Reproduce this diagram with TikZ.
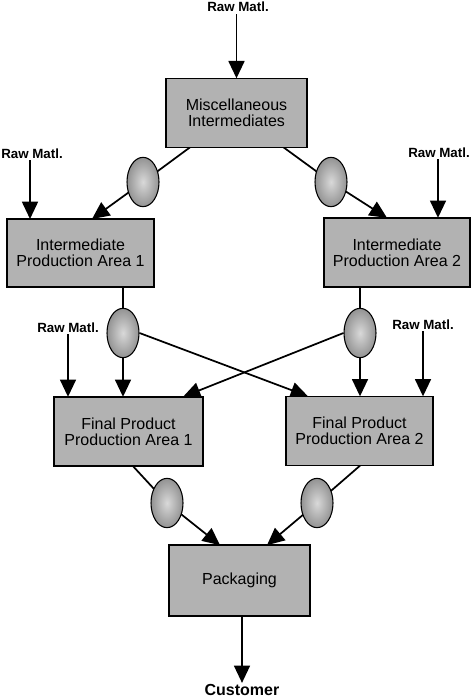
\documentclass[tikz,border=0pt]{standalone}
\usepackage{fontspec}
\setmainfont{Liberation Sans}
\usetikzlibrary{arrows.meta,calc,backgrounds,shapes.geometric}
\begin{document}
\begin{tikzpicture}[x=0.75pt,y=-0.75pt,
  area/.style={draw=black,line width=1.2pt,fill=gray!60,inner sep=0pt,outer sep=0pt,
    minimum width=109pt,minimum height=52pt,align=center,
    font=\fontsize{12}{11.8}\selectfont},
  valve/.style={ellipse,draw=black,line width=0.8pt,inner color=gray!30,outer color=gray!85,
    minimum width=24pt,minimum height=37pt,inner sep=0pt},
  rawlbl/.style={font=\bfseries\fontsize{10}{10}\selectfont,anchor=base,inner sep=1.5pt},
  conn/.style={line width=1.3pt},
  arr/.style={line width=1.3pt,-{Triangle[width=12pt,length=13pt]}}]
\useasboundingbox (0,0) rectangle (474,699);
% boxes
\node[area,minimum width=105.75pt] (misc) at (236.5,113) {Miscellaneous\\Intermediates};
\node[area,minimum width=110.25pt,minimum height=51pt] (ipa1) at (80.5,253) {Intermediate\\Production Area 1};
\node[area,minimum width=109.5pt] (ipa2) at (397,252.5) {Intermediate\\Production Area 2};
\node[area,minimum width=111.75pt] (fp1) at (128.5,431.5) {Final Product\\Production Area 1};
\node[area,minimum width=110.25pt] (fp2) at (359.5,431) {Final Product\\Production Area 2};
\node[area,minimum width=105.75pt,minimum height=53pt] (pack) at (239.5,580.5) {Packaging};
% valves
\node[valve] (e1) at (143,182) {};
\node[valve] (e2) at (331,182) {};
\node[valve] (e3) at (123,333) {};
\node[valve] (e4) at (360,333) {};
\node[valve] (e5) at (167,503) {};
\node[valve] (e6) at (317,503) {};
% labels
\node[rawlbl] (rawA) at (238,12) {Raw Matl.};
\node[rawlbl] (rawB) at (32,158) {Raw Matl.};
\node[rawlbl] (rawC) at (439,157) {Raw Matl.};
\node[rawlbl] (rawD) at (68,332) {Raw Matl.};
\node[rawlbl] (rawE) at (423,329) {Raw Matl.};
\node[font=\bfseries\fontsize{12}{12}\selectfont,anchor=base,inner sep=0.5pt] (cust) at (242,695) {Customer};
% target points
\coordinate (t1) at ($(ipa1.north west)+(85,0)$);
\coordinate (t2) at ($(ipa2.north west)+(63,0)$);
\coordinate (tB) at ($(ipa1.north west)+(23,0)$);
\coordinate (tC) at ($(ipa2.north west)+(114,0)$);
\coordinate (b1) at ($(ipa1.south west)+(116,0)$);
\coordinate (b2) at ($(ipa2.south west)+(36,0)$);
\coordinate (t3) at ($(fp1.north west)+(69,0)$);
\coordinate (t3x) at ($(fp2.north west)+(22,0)$);
\coordinate (t4) at ($(fp2.north west)+(74,0)$);
\coordinate (t4x) at ($(fp1.north west)+(129,0)$);
\coordinate (tD) at ($(fp1.north west)+(14,0)$);
\coordinate (tE) at ($(fp2.north west)+(137,0)$);
\coordinate (b3) at ($(fp1.south west)+(79,0)$);
\coordinate (b4) at ($(fp2.south west)+(74,0)$);
\coordinate (t5) at ($(pack.north west)+(51,0)$);
\coordinate (t6) at ($(pack.north west)+(98,0)$);
\begin{pgfonlayer}{background}
\draw[arr] (misc.north |- rawA.south) -- (misc.north);
\draw[arr] (misc.center) -- (e1.center) -- (t1);
\draw[arr] (misc.center) -- (e2.center) -- (t2);
\draw[arr] (rawB.south -| tB) -- (tB);
\draw[arr] (rawC.south -| tC) -- (tC);
\draw[conn] (b1) -- (e3.center);
\draw[conn] (b2) -- (e4.center);
\draw[arr] (e3.center) -- (t3);
\draw[arr] (e4.center) -- (t4);
\draw[arr] (e3.east) -- (t3x);
\draw[arr] (e4.west) -- (t4x);
\draw[arr] (rawD.south -| tD) -- (tD);
\draw[arr] (rawE.south -| tE) -- (tE);
\draw[arr] (b3) -- (e5.center) -- (t5);
\draw[arr] (b4) -- (e6.center) -- (t6);
\draw[arr] (cust.north |- pack.south) -- (cust.north);
\end{pgfonlayer}
\end{tikzpicture}
\end{document}
